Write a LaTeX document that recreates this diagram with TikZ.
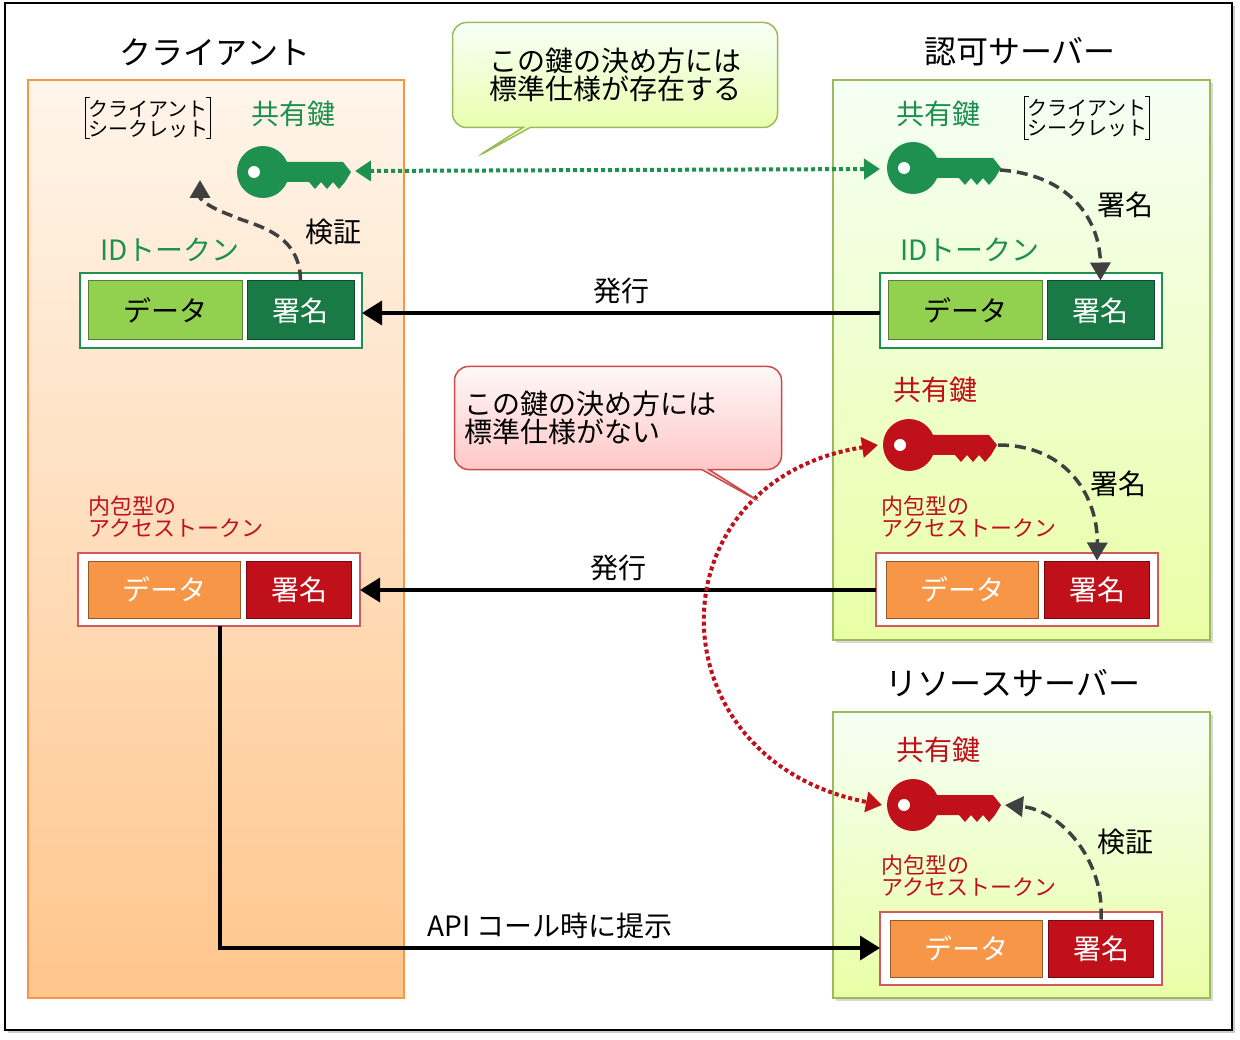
\documentclass[tikz,border=0pt]{standalone}
\usepackage{fontspec}
\setmainfont{Noto Sans CJK JP}
\usetikzlibrary{arrows.meta,shapes.callouts,shadows}
\definecolor{kgreen}{HTML}{1E9050}
\definecolor{kred}{HTML}{C0101A}
\definecolor{orb}{HTML}{F79646}
\definecolor{grb}{HTML}{9BBB59}
\definecolor{lgr}{HTML}{92D050}
\definecolor{dgr}{HTML}{1A7A45}
\definecolor{tgr}{HTML}{1E9050}
\definecolor{trd}{HTML}{C0101A}
\tikzset{
  f/.style={font=\fontsize{#1}{#1}\selectfont},
  panelO/.style={draw=orb,line width=2.5pt,top color=orange!8,bottom color=orange!45!white!100},
  panelG/.style={draw=grb,line width=2.5pt,top color=green!4!white,bottom color=lime!35!white,drop shadow={opacity=0.3}},
  tok/.style={draw=#1,line width=2.5pt,fill=white},
  cell/.style={draw=#1!60!black,line width=1pt,fill=#1,text=white,f=28,inner sep=0pt},
  arr/.style={line width=3.5pt,-{Triangle[length=20pt,width=24pt]}},
  dsh/.style={draw=black!75,line width=3.5pt,dash pattern=on 11pt off 6pt,-{Triangle[length=18pt,width=20pt]}},
  dotg/.style={draw=kgreen,line width=4pt,dash pattern=on 4pt off 3pt,{Triangle[length=16pt,width=20pt]}-{Triangle[length=16pt,width=20pt]}},
  dotr/.style={draw=kred,line width=4pt,dash pattern=on 4pt off 3pt,{Triangle[length=16pt,width=20pt]}-{Triangle[length=16pt,width=20pt]}},
  key/.pic={
    \fill[pic actions] (0,0) circle (26);
    \fill[pic actions] (15,-10) -- (80,-10) -- (88,0) -- (82,10) -- (76,17) -- (70,10) -- (64,17) -- (58,10) -- (52,17) -- (46,10) -- (15,10) -- cycle;
    \fill[white] (-9,0) circle (6);
  }
}
\begin{document}
\begin{tikzpicture}[x=1pt,y=-1pt]
\useasboundingbox (0,0) rectangle (1240,1040);
\draw[line width=1.5pt,fill=white,drop shadow={opacity=0.4}] (5,3) rectangle (1232,1030);
% panels
\draw[panelO] (28,80) rectangle (404,998);
\draw[panelG] (833,80) rectangle (1210,640);
\draw[panelG] (833,712) rectangle (1210,998);
\node[f=32] (tC) at (215,52) {クライアント};
\node[f=32] (tA) at (1020,52) {認可サーバー};
\node[f=32] (tR) at (1013,683) {リソースサーバー};
% brackets
\node[f=20,align=left,inner sep=2pt,text depth=0pt] (bl) at (148,118) {クライアント\\シークレット};
\draw[line width=1pt] ([xshift=4pt]bl.north west) -- (bl.north west) -- (bl.south west) -- ([xshift=4pt]bl.south west);
\draw[line width=1pt] ([xshift=-4pt]bl.north east) -- (bl.north east) -- (bl.south east) -- ([xshift=-4pt]bl.south east);
\node[f=20,align=left,inner sep=2pt] (br) at (1087,118) {クライアント\\シークレット};
\draw[line width=1pt] ([xshift=4pt]br.north west) -- (br.north west) -- (br.south west) -- ([xshift=4pt]br.south west);
\draw[line width=1pt] ([xshift=-4pt]br.north east) -- (br.north east) -- (br.south east) -- ([xshift=-4pt]br.south east);
% shared key labels
\node[f=28,text=tgr] (s1) at (293,114) {共有鍵};
\node[f=28,text=tgr] (s2) at (938,114) {共有鍵};
\node[f=28,text=trd] (s3) at (935,390) {共有鍵};
\node[f=28,text=trd] (s4) at (938,750) {共有鍵};
% keys
\pic[fill=kgreen] at (263,172) {key};
\pic[fill=kgreen] at (913,168) {key};
\pic[fill=kred] at (909,445) {key};
\pic[fill=kred] at (913,805) {key};
\coordinate (k1r) at (355,171);
\coordinate (k1l) at (200,180);
\coordinate (k2l) at (880,169);
\coordinate (k2r) at (1000,170);
\coordinate (k3l) at (878,445);
\coordinate (k3r) at (998,445);
\coordinate (k4l) at (882,805);
\coordinate (k4r) at (1005,805);
% ID tokens
\node[f=28,text=tgr] (il) at (170,250) {IDトークン};
\node[f=28,text=tgr] (ir) at (970,250) {IDトークン};
\draw[tok=kgreen] (80,273) rectangle (362,348);
\node[cell=lgr,text=black,minimum width=154pt,minimum height=59pt] (d1) at (165,310.5) {データ};
\node[cell=dgr,minimum width=107pt,minimum height=59pt] (g1) at (300.5,310.5) {署名};
\draw[tok=kgreen] (880,273) rectangle (1162,348);
\node[cell=lgr,text=black,minimum width=154pt,minimum height=59pt] (d2) at (965,310.5) {データ};
\node[cell=dgr,minimum width=107pt,minimum height=59pt] (g2) at (1100.5,310.5) {署名};
% access tokens
\node[f=22,text=trd,align=left,anchor=west] (al) at (85,517) {内包型の\\アクセストークン};
\node[f=22,text=trd,align=left,anchor=west] (ar) at (878,517) {内包型の\\アクセストークン};
\node[f=22,text=trd,align=left,anchor=west] (ax) at (878,876) {内包型の\\アクセストークン};
\draw[tok=trd!70!white] (78,553) rectangle (360,626);
\node[cell=orb,minimum width=152pt,minimum height=57pt] (d3) at (164,589.5) {データ};
\node[cell=kred,minimum width=105pt,minimum height=57pt] (g3) at (299,589.5) {署名};
\draw[tok=trd!70!white] (876,553) rectangle (1158,626);
\node[cell=orb,minimum width=152pt,minimum height=57pt] (d4) at (962,589.5) {データ};
\node[cell=kred,minimum width=105pt,minimum height=57pt] (g4) at (1097,589.5) {署名};
\draw[tok=trd!70!white] (880,912) rectangle (1162,985);
\node[cell=orb,minimum width=152pt,minimum height=57pt] (d5) at (966,948.5) {データ};
\node[cell=kred,minimum width=105pt,minimum height=57pt] (g5) at (1101,948.5) {署名};
\coordinate (t1l) at (362,313); \coordinate (t2r) at (880,313);
\coordinate (t3l) at (360,590); \coordinate (t4r) at (876,590);
\coordinate (t3b) at (220,626); \coordinate (t5l) at (880,948);
% arrows
\draw[arr] (t2r) -- node[above=4pt,f=28]{発行} (t1l);
\draw[arr] (t4r) -- node[above=4pt,f=28]{発行} (t3l);
\draw[arr] (t3b) |- node[pos=0.75,above=4pt,f=28]{API コール時に提示} (t5l);
\draw[dotg] (k1r) -- (k2l);
\draw[dotr] (k3l) .. controls (650,480) and (650,760) .. (k4l);
\draw[dsh] (k2r) .. controls (1070,175) and (1100,220) .. (g2.north);
\node[f=28] (sg1) at (1125,205) {署名};
\draw[dsh] (k3r) .. controls (1070,445) and (1098,500) .. (g4.north);
\node[f=28] (sg2) at (1118,484) {署名};
\draw[dsh] (g1.north) .. controls (300,230) and (250,225) .. (230,215) .. controls (190,200) and (200,190) .. (k1l);
\node[f=28] (v1) at (333,232) {検証};
\draw[dsh] (g5.north) .. controls (1105,860) and (1060,810) .. (k4r);
\node[f=28] (v2) at (1125,842) {検証};
% callouts
\node[rectangle callout,rounded corners=14pt,draw=grb,line width=1.5pt,top color=green!3!white,bottom color=lime!40!white,
  minimum width=325pt,minimum height=105pt,align=left,f=28,callout absolute pointer={(475,158)}] (c1) at (615,75)
  {この鍵の決め方には\\標準仕様が存在する};
\node[rectangle callout,rounded corners=14pt,draw=red!70!black!70,line width=1.5pt,top color=red!3!white,bottom color=red!28!white,
  minimum width=327pt,minimum height=103pt,align=left,f=28,callout absolute pointer={(762,503)}] (c2) at (618,418)
  {この鍵の決め方には\\標準仕様がない\phantom{存在する}};
\end{tikzpicture}
\end{document}
